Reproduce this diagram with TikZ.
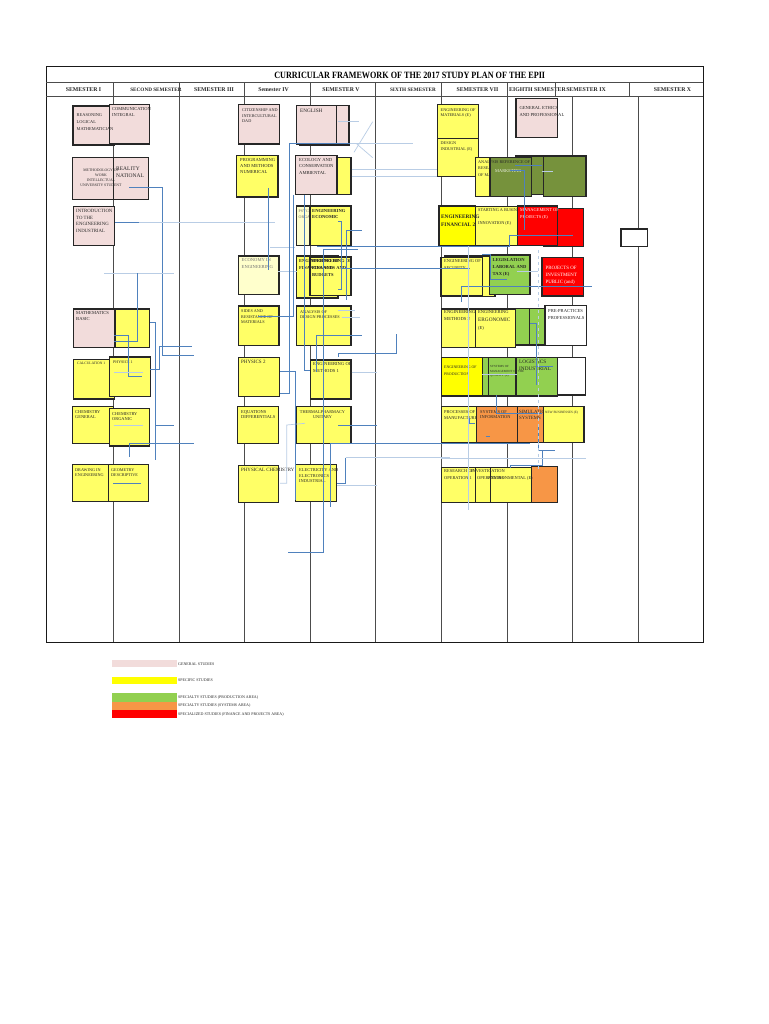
\documentclass[tikz,border=0pt]{standalone}
\usepackage{fontspec}
\setmainfont{Liberation Serif}
\definecolor{genpink}{HTML}{F2DCDB}
\definecolor{specyellow}{HTML}{FFFF66}
\definecolor{pureyellow}{HTML}{FFFF00}
\definecolor{paleyellow}{HTML}{FFFFCC}
\definecolor{prodgreen}{HTML}{92D050}
\definecolor{olivegreen}{HTML}{76923C}
\definecolor{sysorange}{HTML}{F79646}
\definecolor{finred}{HTML}{FF0000}
\definecolor{linkblue}{HTML}{4F81BD}
\newcommand{\fsz}[2]{\fontsize{#1}{#2}\selectfont}

\begin{document}
\begin{tikzpicture}[x=1pt, y=-1pt,
    grid/.style={draw=black!70, line width=0.7pt},
    course/.style={draw=black!85, line width=1.1pt},
    lbl/.style={anchor=north west, inner sep=0pt, align=left, text=black!85, font=\fsz{4.7}{6}},
    head/.style={inner sep=0pt, text=black!85, font=\bfseries\fsz{5.8}{6}},
    link/.style={draw=linkblue, line width=0.9pt},
    faint/.style={draw=linkblue!40, line width=0.7pt},
    keytxt/.style={anchor=west, inner sep=0pt, text=black!85, font=\fsz{4}{4}}
]
\useasboundingbox (0,0) rectangle (768,1024);
\fill[white] (0,0) rectangle (768,1024);

% Title and header row
\node[inner sep=0pt] (title) at (409.7,74.9) {\scalebox{0.85}[1]{\bfseries\fsz{9.6}{10}CURRICULAR FRAMEWORK OF THE 2017 STUDY PLAN OF THE EPII}};
\node[head] (h1) at (83.5,89.6) {SEMESTER I};
\node[head, font=\bfseries\fsz{5.2}{6}] (h2) at (156,89.6) {SECOND SEMESTER};
\node[head] (h3) at (214,89.6) {SEMESTER III};
\node[head] (h4) at (273.5,89.6) {Semester IV};
\node[head] (h5) at (341,89.6) {SEMESTER V};
\node[head, font=\bfseries\fsz{5.2}{6}] (h6) at (413,89.6) {SIXTH SEMESTER};
\node[head] (h7) at (477.5,89.6) {SEMESTER VII};
\node[head] (h8) at (537.5,89.6) {EIGHTH SEMESTER};
\node[head] (h9) at (586,89.6) {SEMESTER IX};
\node[head] (h10) at (672.5,89.6) {SEMESTER X};

% Grid
\draw[grid, draw=black!90] (46,66.7) rectangle (703,642);
\draw[grid] (46,82.7) -- (703,82.7);
\draw[grid] (46,96.5) -- (703,96.5);
\foreach \cx in {113,179,244,310,375,441,507,572,638}
  \draw[grid] (\cx,96.5) -- (\cx,642);
\foreach \cx in {113,179,244,310,375,441,507,555,629}
  \draw[grid] (\cx,82.7) -- (\cx,96.5);

% Semester I and II
\draw[course, fill=genpink] (73,106) rectangle (114.5,145);
\draw[course, fill=genpink] (109.3,104.3) rectangle (149.7,144);
\draw[course, fill=genpink] (72.7,157.3) rectangle (114,199.3);
\draw[course, fill=genpink] (113.3,157.3) rectangle (148.7,199.3);
\draw[course, fill=genpink] (73.3,206.7) rectangle (114.7,245.7);
\draw[course, fill=specyellow] (113,309) rectangle (149.7,347.3);
\draw[course, fill=genpink] (73.3,309) rectangle (115,347.3);
\draw[course, fill=specyellow] (73.3,359.3) rectangle (114.3,399);
\draw[course, fill=specyellow] (109.3,357) rectangle (150.3,396.7);
\draw[course, fill=specyellow] (72.3,406.7) rectangle (113.3,443.3);
\draw[course, fill=specyellow] (109.3,408.7) rectangle (149.7,446);
\draw[course, fill=specyellow] (72.3,464.3) rectangle (109.3,501.7);
\draw[course, fill=specyellow] (108.3,464.3) rectangle (148.7,501.7);

\node[lbl, font=\fsz{4.4}{7}] (reasoning) at (76.5,113.4) {REASONING\\LOGICAL\\MATHEMATICIAN};
\node[lbl, font=\fsz{4.5}{5.7}] (communication) at (112,107.4) {COMMUNICATION\\INTEGRAL};
\node[lbl, anchor=north, align=center, font=\fsz{3.8}{5}] (methodology) at (101,168.7) {METHODOLOGY OF\\WORK\\INTELLECTUAL\\UNIVERSITY STUDENT};
\node[lbl, font=\fsz{5.5}{6.3}] (reality) at (116,167) {REALITY\\NATIONAL};
\node[lbl, font=\fsz{4.8}{6.7}] (introduction) at (76,209) {INTRODUCTION\\TO THE\\ENGINEERING\\INDUSTRIAL};
\node[lbl, font=\fsz{4.6}{6}] (mathematics) at (76,311.4) {MATHEMATICS\\BASIC};
\node[lbl, font=\fsz{3.6}{4}] (calculation) at (77,361.9) {CALCULATION 1};
\node[lbl, font=\fsz{4}{5}] (physicsone) at (113,360.7) {PHYSICS 1};
\node[lbl, font=\fsz{4.4}{5.7}] (chemgeneral) at (75,410) {CHEMISTRY\\GENERAL};
\node[lbl, font=\fsz{4.4}{5}] (chemorganic) at (112,412.4) {CHEMISTRY\\ORGANIC};
\node[lbl, font=\fsz{4.2}{4.8}] (drawing) at (75,468.5) {DRAWING IN\\ENGINEERING};
\node[lbl, font=\fsz{4.2}{4.8}] (geometry) at (111,468.5) {GEOMETRY\\DESCRIPTIVE};

% Semester III, IV and V
\draw[course, fill=genpink] (238.3,104.3) rectangle (279.7,144);
\draw[course, fill=genpink] (300,105.7) rectangle (349,145);
\draw[course, fill=genpink] (296.7,105.7) rectangle (336.7,144.3);
\draw[course, fill=specyellow] (236.7,155.3) rectangle (278,197);
\draw[course, fill=specyellow] (311,157.3) rectangle (351,194.7);
\draw[course, fill=genpink] (295.7,155.3) rectangle (337,194.3);
\draw[course, fill=paleyellow] (296.7,206) rectangle (330,245.7);
\node[lbl, font=\fsz{4}{6}, text=black!60] (psychology) at (298.5,209.5) {PSYCHOLOGY\\ORGANIZATIONAL};
\draw[course, fill=specyellow] (310,206) rectangle (351,245.7);
\draw[course, fill=paleyellow] (238.3,256) rectangle (279,294.3);
\draw[course, fill=specyellow] (296.7,256) rectangle (338,298);
\draw[course, fill=specyellow] (310,257) rectangle (351,295.7);
\draw[course, fill=specyellow] (238.3,306) rectangle (279,345.7);
\draw[course, fill=specyellow] (296.7,306) rectangle (351,345.7);
\draw[course, fill=specyellow] (238.3,357.3) rectangle (279.3,396.3);
\draw[course, fill=specyellow] (310.3,360) rectangle (351,399);
\draw[course, fill=specyellow] (237.7,406.7) rectangle (278.7,443.3);
\draw[course, fill=specyellow] (296.7,406.7) rectangle (351,443.3);
\draw[course, fill=specyellow] (238.3,465.7) rectangle (278.7,502.7);
\node[lbl, font=\fsz{4.9}{6}] (physchem) at (241,467.7) {PHYSICAL CHEMISTRY};
\draw[course, fill=specyellow] (295.7,464.3) rectangle (336.7,501.7);

\node[lbl, font=\fsz{4.2}{5.5}] (citizenship) at (242,108.6) {CITIZENSHIP AND\\INTERCULTURAL\\DAD};
\node[lbl, font=\fsz{5.2}{6}] (english) at (300,109.1) {ENGLISH};
\node[lbl, font=\fsz{4.6}{5.8}] (programming) at (240,158.5) {PROGRAMMING\\AND METHODS\\NUMERICAL};
\node[lbl, font=\fsz{4.6}{6.3}] (ecology) at (299,158.4) {ECOLOGY AND\\CONSERVATION\\AMBIENTAL};
\node[lbl, font=\bfseries\fsz{4.6}{6}] (econ) at (312,209.3) {ENGINEERING\\ECONOMIC};
\node[lbl, font=\fsz{4.6}{6.5}, text=black!55] (economy) at (241.5,258.4) {ECONOMY IN\\ENGINEERING};
\node[lbl, font=\bfseries\fsz{4.5}{7}] (financesa) at (299,259) {ENGINEERING OF\\FINANCES AND};
\node[lbl, font=\bfseries\fsz{4.5}{7}] (financesb) at (312,259) {ENGINEERING OF\\FINANCES AND\\BUDGETS};
\node[lbl, font=\fsz{4.2}{5.6}] (sides) at (241,309.6) {SIDES AND\\RESISTANCE OF\\MATERIALS};
\node[lbl, font=\fsz{4.2}{5.6}] (analysis) at (300,310.2) {ANALYSIS OF\\DESIGN PROCESSES};
\node[lbl, font=\fsz{5}{6}] (physicstwo) at (241,360.1) {PHYSICS 2};
\node[lbl, font=\fsz{4.6}{6.5}] (methodsone) at (313,362.4) {ENGINEERING OF\\METHODS 1};
\node[lbl, font=\fsz{4.5}{5}] (equations) at (241,410.2) {EQUATIONS\\DIFFERENTIALS};
\node[lbl, anchor=north, align=center, font=\fsz{4.3}{5}] (thermal) at (322.5,410.2) {THERMALPHARMACY\\UNITARY};
\node[lbl, font=\fsz{4.4}{5.5}] (electricity) at (299,468.6) {ELECTRICITY AND\\ELECTRONICS\\INDUSTRIAL};

% Semester VII and VIII
\draw[course, fill=specyellow] (437.3,104.3) rectangle (478.3,138.3);
\draw[course, fill=specyellow] (437.3,138.3) rectangle (478.3,176.7);
\draw[course, fill=genpink] (516,98.3) rectangle (557.3,137.7);
\draw[course, fill=specyellow] (475.7,157.7) rectangle (517,196.7);
\node[lbl, font=\fsz{4.2}{6.7}] (research) at (478,166.9) {RESEARCH\\OF MARKETS};
\draw[course, fill=olivegreen] (516,156) rectangle (557.3,194.3);
\draw[course, fill=olivegreen] (543.3,156) rectangle (586,196.7);
\draw[course, fill=olivegreen] (490,157.7) rectangle (531.7,196.7);
\node[lbl, font=\fsz{4.2}{6}] (anaref) at (478,160.3) {ANALYSIS REFERENCE OF};
\node[lbl, font=\fsz{4.4}{6}, text=white!85!olivegreen] (marketing) at (495,169.4) {MARKETING};

\draw[course, fill=pureyellow] (439,206) rectangle (475.7,245.3);
\draw[course, fill=specyellow] (475.7,206.7) rectangle (517.3,245.3);
\node[lbl, font=\fsz{4.3}{6}] (startupa) at (478,208.5) {STARTING A BUSINESS};
\node[lbl, font=\fsz{4.3}{6}] (startupb) at (478,221.2) {INNOVATION (E)};
\draw[course, fill=finred] (543.3,208.3) rectangle (583.3,246.7);
\draw[course, fill=finred] (517.3,206) rectangle (557.3,245.3);
\node[lbl, font=\fsz{4.4}{7.3}, text=white] (management) at (520,208.5) {MANAGEMENT OF\\PROJECTS (E)};
\node[lbl, font=\bfseries\fsz{5.3}{7.6}] (financial) at (441,214.8) {ENGINEERING\\FINANCIAL 2};

\draw[course, fill=specyellow] (445,256) rectangle (495,296.5);
\draw[course, fill=specyellow] (441,257.7) rectangle (482.3,296);
\draw[course, fill=prodgreen] (489.3,255) rectangle (530,294.3);
\draw[course, fill=finred] (542,257.7) rectangle (583.3,296);

\draw[course, fill=specyellow] (441.7,309) rectangle (475.7,347.7);
\node[lbl, font=\fsz{4.6}{6.7}] (methodstwo) at (444,310.7) {ENGINEERING OF\\METHODS 2};
\draw[course, fill=specyellow] (475.7,309) rectangle (515.3,347.7);
\draw[course, fill=prodgreen] (515.3,308.3) rectangle (530,345);
\draw[course, fill=prodgreen] (529.3,308.3) rectangle (545,345);
\draw[course, fill=white] (545,305.7) rectangle (586.7,345.7);

\draw[course, fill=pureyellow] (441.7,357.7) rectangle (482.3,396);
\draw[course, fill=prodgreen] (482.3,357.7) rectangle (488.3,396);
\draw[course, fill=prodgreen] (488.3,357.7) rectangle (516.7,396);
\draw[course, fill=prodgreen] (516,357.7) rectangle (557.3,396);
\draw[course, fill=white] (557.3,357.7) rectangle (585.7,395);

\draw[course, fill=specyellow] (441.7,406.7) rectangle (476.7,442.7);
\draw[course, fill=sysorange] (476.7,406.7) rectangle (517.3,442.7);
\draw[course, fill=sysorange] (517.3,406.7) rectangle (543.3,442.7);
\node[lbl, font=\fsz{4.8}{6}] (simulation) at (519,410) {SIMULATION OF\\SYSTEMS};
\draw[course, fill=specyellow] (543.3,406.7) rectangle (584,442.7);

\draw[course, fill=specyellow] (441.7,467.3) rectangle (475.7,502.3);
\draw[course, fill=sysorange] (531.7,466.7) rectangle (557.3,502.3);
\draw[course, fill=specyellow] (475.7,467.3) rectangle (490.7,502.3);
\draw[course, fill=specyellow] (490.7,467.3) rectangle (531.7,502.3);

\draw[course, fill=white] (621,229) rectangle (647.3,246.7);

\node[lbl, font=\fsz{4.2}{5}] (materials) at (440.5,108.6) {ENGINEERING OF\\MATERIALS (E)};
\node[lbl, font=\fsz{4.2}{6}] (design) at (440.5,141.4) {DESIGN\\INDUSTRIAL (E)};
\node[lbl, font=\fsz{4.6}{6.3}] (ethics) at (519.3,106.5) {GENERAL ETHICS\\AND PROFESSIONAL};
\node[lbl, font=\fsz{4.4}{7}] (security) at (444,259.1) {ENGINEERING OF\\SECURITY};
\node[lbl, font=\bfseries\fsz{4.6}{6.7}] (legislation) at (492.5,258.4) {LEGISLATION\\LABORAL AND\\TAX (E)};
\node[lbl, font=\fsz{4.9}{7}, text=white] (publicinv) at (545.5,266) {PROJECTS OF\\INVESTMENT\\PUBLIC (and)};
\node[lbl, font=\fsz{4.5}{8}] (ergonomic) at (478,310.4) {ENGINEERING\\{\fsz{5.3}{6}ERGONOMIC}\\(E)};
\node[lbl, font=\fsz{4.6}{7}] (prepractice) at (548,309) {PRE-PRACTICES\\PROFESSIONALS};
\node[lbl, font=\fsz{3.9}{7.3}] (production) at (444,365.4) {ENGINEERING OF\\PRODUCTION};
\node[lbl, font=\fsz{3.1}{4.5}] (quality) at (490,365.7) {SYSTEMS OF\\MANAGEMENT OF THE\\QUALITY (E)};
\node[lbl, font=\fsz{5.3}{7.3}] (logistics) at (519,359.9) {LOGISTICS\\INDUSTRIAL};
\node[lbl, font=\fsz{4.4}{6}] (manufacture) at (444,410.1) {PROCESSES OF\\MANUFACTURE};
\node[lbl, font=\fsz{4.4}{5.6}] (information) at (480,410.1) {SYSTEMS OF\\INFORMATION};
\node[lbl, font=\fsz{3.3}{4}] (business) at (545,410.6) {NEW BUSINESSES (E)};
\node[lbl, font=\fsz{4.4}{7}] (operation) at (444,469.1) {RESEARCH OF\\OPERATION 1};
\node[lbl, font=\fsz{4.4}{7}] (investigation) at (471,469.1) {INVESTIGATION};
\node[lbl, font=\fsz{4.4}{7}] (operations) at (477,476.1) {OPERATIONS};
\node[lbl, font=\fsz{4.4}{7}] (environmental) at (488,476.1) {ENVIRONMENTAL (E)};

% Connectors
\draw[link] (129,187) -- (162,187) -- (162,355) -- (194,355);
\draw[link] (115,222) -- (139,222);
\draw[faint] (139,222) -- (275,222);
\draw[faint] (104,273) -- (174,273);
\draw[link] (137.7,273) -- (137.7,341.7) -- (114.3,341.7);
\draw[link] (114.3,335) -- (128.3,335) -- (128.3,376) -- (141.7,376);
\draw[link] (150.3,322.3) -- (155.3,322.3) -- (155.3,460);
\draw[link] (155.3,425.7) -- (173.7,425.7);
\draw[link] (150.3,369.3) -- (159.3,369.3) -- (159.3,346.7) -- (191.7,346.7);
\draw[link] (129.3,456.7) -- (129.3,443.3) -- (193.7,443.3);
\draw[faint] (114,372) -- (143,372);
\draw[faint] (113.7,425) -- (142.7,425);
\draw[link] (113,483.7) -- (141,483.7);

\draw[link] (268.3,188) -- (268.3,270);
\draw[faint] (278,271.7) -- (296.7,271.7);
\draw[faint] (270,247) -- (295,247);
\draw[link] (350,143.3) -- (289.3,143.3) -- (289.3,393.3) -- (280,393.3);
\draw[faint] (350,143.3) -- (413,143.3);
\draw[faint] (372.7,121.7) -- (354,152.3);
\draw[faint] (356,143.3) -- (372.7,157.7);
\draw[faint] (338.3,121) -- (359.3,121);
\draw[faint] (351.7,169) -- (436.7,169);
\draw[faint] (351.7,176.7) -- (436.7,176.7);
\draw[link] (304,195) -- (304,370) -- (310,370);
\draw[link] (293,195) -- (293,316) -- (258.3,316);
\draw[link] (358,249) -- (323,249) -- (323,552) -- (288,552);
\draw[link] (317,246) -- (509,246) -- (509,235) -- (573,235);
\draw[link] (342,268) -- (470,268);
\draw[link] (338,221.7) -- (341.7,221.7) -- (341.7,289.3) -- (338,289.3);
\draw[link] (361.7,230) -- (346.7,230) -- (346.7,300);
\draw[link] (361.7,335) -- (316,335) -- (316,371.7);
\draw[link] (396,334) -- (396,353.3) -- (338.3,353.3) -- (338.3,357);
\draw[link] (338.3,425.7) -- (376.7,425.7);
\draw[link] (330.7,506.7) -- (330.7,443.3) -- (530,443.3);
\draw[faint] (345.7,457.7) -- (450,457.7);
\draw[link] (345.7,457.7) -- (345.7,483.3) -- (337.3,483.3);
\draw[faint] (337,485) -- (377,485);
\draw[faint] (305,423.3) -- (286.7,425) -- (286.7,483.3) -- (280,483.3);
\draw[link] (280,371) -- (295,371) -- (295,500);
\draw[faint] (341.7,317.7) -- (360,317.7);
\draw[faint] (338,310.7) -- (355,310.7);
\draw[faint] (351.7,372.3) -- (376.7,372.3);

\draw[link] (515,165.7) -- (541.7,165.7);
\draw[link] (510,170) -- (524.3,170) -- (524.3,230);
\draw[faint] (541.7,171.7) -- (553,171.7);
\draw[link] (482.3,254.3) -- (490.7,254.3) -- (490.7,279.3) -- (506.7,279.3);
\draw[link] (461.7,302) -- (461.7,286) -- (591.7,286);
\draw[faint] (516.7,271.7) -- (538.3,271.7);
\draw[link] (530,323.3) -- (536.7,323.3) -- (536.7,385);
\draw[link] (536.7,366.7) -- (553.3,366.7);
\draw[link] (496.7,395) -- (496.7,413.3) -- (541.7,413.3);
\draw[link] (538.3,425) -- (538.3,450) -- (555,450);
\draw[link] (542.7,450) -- (542.7,465) -- (510,465) -- (510,468);
\draw[faint] (468.3,246) -- (468.3,510);
\draw[faint, dashed] (538,250) -- (538,470);
\draw[faint] (441,458) -- (586,458);
\draw[faint] (482,374) -- (517,374);
\draw[link] (485.7,436.7) -- (490,436.7);
\draw[link] (469.3,418.3) -- (469.3,423.3) -- (475,423.3);

% Legend
\fill[genpink] (112,660) rectangle (176.7,667.3);
\fill[pureyellow] (112,676.7) rectangle (176.7,684.3);
\fill[prodgreen] (112,693.3) rectangle (176.7,701.7);
\fill[sysorange] (112,701.7) rectangle (176.7,710);
\fill[finred] (112,710) rectangle (176.7,718.3);
\node[keytxt] (kgeneral) at (178,663.7) {GENERAL STUDIES};
\node[keytxt] (kspecific) at (178,680.5) {SPECIFIC STUDIES};
\node[keytxt] (kproduction) at (178,697.5) {SPECIALTY STUDIES (PRODUCTION AREA)};
\node[keytxt] (ksystems) at (178,705.8) {SPECIALTY STUDIES (SYSTEMS AREA)};
\node[keytxt] (kfinance) at (178,714.2) {SPECIALIZED STUDIES (FINANCE AND PROJECTS AREA)};

\end{tikzpicture}
\end{document}
